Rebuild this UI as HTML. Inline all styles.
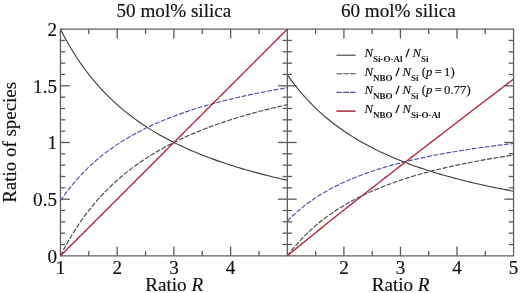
<!DOCTYPE html>
<html><head><meta charset="utf-8"><style>
html,body{margin:0;padding:0;background:#fff;}
body{width:520px;height:293px;overflow:hidden;}
svg{display:block;}
text{font-family:"Liberation Serif", serif;fill:#111;stroke:#111;stroke-width:0.15px;}
</style></head><body>
<svg width="520" height="293" viewBox="0 0 520 293">
<rect width="520" height="293" fill="#fff"/>
<g stroke="#5a5a5a" stroke-width="1.3" fill="none">
<line x1="88.81" y1="255.85" x2="88.81" y2="251.05"/>
<line x1="88.81" y1="29.10" x2="88.81" y2="33.90"/>
<line x1="117.18" y1="255.85" x2="117.18" y2="246.55"/>
<line x1="117.18" y1="29.10" x2="117.18" y2="38.40"/>
<line x1="145.54" y1="255.85" x2="145.54" y2="251.05"/>
<line x1="145.54" y1="29.10" x2="145.54" y2="33.90"/>
<line x1="173.90" y1="255.85" x2="173.90" y2="246.55"/>
<line x1="173.90" y1="29.10" x2="173.90" y2="38.40"/>
<line x1="202.26" y1="255.85" x2="202.26" y2="251.05"/>
<line x1="202.26" y1="29.10" x2="202.26" y2="33.90"/>
<line x1="230.62" y1="255.85" x2="230.62" y2="246.55"/>
<line x1="230.62" y1="29.10" x2="230.62" y2="38.40"/>
<line x1="258.99" y1="255.85" x2="258.99" y2="251.05"/>
<line x1="258.99" y1="29.10" x2="258.99" y2="33.90"/>
<line x1="315.62" y1="255.85" x2="315.62" y2="251.05"/>
<line x1="315.62" y1="29.10" x2="315.62" y2="33.90"/>
<line x1="343.90" y1="255.85" x2="343.90" y2="246.55"/>
<line x1="343.90" y1="29.10" x2="343.90" y2="38.40"/>
<line x1="372.18" y1="255.85" x2="372.18" y2="251.05"/>
<line x1="372.18" y1="29.10" x2="372.18" y2="33.90"/>
<line x1="400.45" y1="255.85" x2="400.45" y2="246.55"/>
<line x1="400.45" y1="29.10" x2="400.45" y2="38.40"/>
<line x1="428.72" y1="255.85" x2="428.72" y2="251.05"/>
<line x1="428.72" y1="29.10" x2="428.72" y2="33.90"/>
<line x1="457.00" y1="255.85" x2="457.00" y2="246.55"/>
<line x1="457.00" y1="29.10" x2="457.00" y2="38.40"/>
<line x1="485.27" y1="255.85" x2="485.27" y2="251.05"/>
<line x1="485.27" y1="29.10" x2="485.27" y2="33.90"/>
<line x1="60.45" y1="244.51" x2="65.25" y2="244.51"/>
<line x1="282.55" y1="244.51" x2="292.15" y2="244.51"/>
<line x1="513.55" y1="244.51" x2="508.75" y2="244.51"/>
<line x1="60.45" y1="233.17" x2="65.25" y2="233.17"/>
<line x1="282.55" y1="233.17" x2="292.15" y2="233.17"/>
<line x1="513.55" y1="233.17" x2="508.75" y2="233.17"/>
<line x1="60.45" y1="221.84" x2="65.25" y2="221.84"/>
<line x1="282.55" y1="221.84" x2="292.15" y2="221.84"/>
<line x1="513.55" y1="221.84" x2="508.75" y2="221.84"/>
<line x1="60.45" y1="210.50" x2="65.25" y2="210.50"/>
<line x1="282.55" y1="210.50" x2="292.15" y2="210.50"/>
<line x1="513.55" y1="210.50" x2="508.75" y2="210.50"/>
<line x1="60.45" y1="199.16" x2="69.75" y2="199.16"/>
<line x1="278.05" y1="199.16" x2="296.65" y2="199.16"/>
<line x1="513.55" y1="199.16" x2="504.25" y2="199.16"/>
<line x1="60.45" y1="187.82" x2="65.25" y2="187.82"/>
<line x1="282.55" y1="187.82" x2="292.15" y2="187.82"/>
<line x1="513.55" y1="187.82" x2="508.75" y2="187.82"/>
<line x1="60.45" y1="176.49" x2="65.25" y2="176.49"/>
<line x1="282.55" y1="176.49" x2="292.15" y2="176.49"/>
<line x1="513.55" y1="176.49" x2="508.75" y2="176.49"/>
<line x1="60.45" y1="165.15" x2="65.25" y2="165.15"/>
<line x1="282.55" y1="165.15" x2="292.15" y2="165.15"/>
<line x1="513.55" y1="165.15" x2="508.75" y2="165.15"/>
<line x1="60.45" y1="153.81" x2="65.25" y2="153.81"/>
<line x1="282.55" y1="153.81" x2="292.15" y2="153.81"/>
<line x1="513.55" y1="153.81" x2="508.75" y2="153.81"/>
<line x1="60.45" y1="142.47" x2="69.75" y2="142.47"/>
<line x1="278.05" y1="142.47" x2="296.65" y2="142.47"/>
<line x1="513.55" y1="142.47" x2="504.25" y2="142.47"/>
<line x1="60.45" y1="131.14" x2="65.25" y2="131.14"/>
<line x1="282.55" y1="131.14" x2="292.15" y2="131.14"/>
<line x1="513.55" y1="131.14" x2="508.75" y2="131.14"/>
<line x1="60.45" y1="119.80" x2="65.25" y2="119.80"/>
<line x1="282.55" y1="119.80" x2="292.15" y2="119.80"/>
<line x1="513.55" y1="119.80" x2="508.75" y2="119.80"/>
<line x1="60.45" y1="108.46" x2="65.25" y2="108.46"/>
<line x1="282.55" y1="108.46" x2="292.15" y2="108.46"/>
<line x1="513.55" y1="108.46" x2="508.75" y2="108.46"/>
<line x1="60.45" y1="97.12" x2="65.25" y2="97.12"/>
<line x1="282.55" y1="97.12" x2="292.15" y2="97.12"/>
<line x1="513.55" y1="97.12" x2="508.75" y2="97.12"/>
<line x1="60.45" y1="85.79" x2="69.75" y2="85.79"/>
<line x1="278.05" y1="85.79" x2="296.65" y2="85.79"/>
<line x1="513.55" y1="85.79" x2="504.25" y2="85.79"/>
<line x1="60.45" y1="74.45" x2="65.25" y2="74.45"/>
<line x1="282.55" y1="74.45" x2="292.15" y2="74.45"/>
<line x1="513.55" y1="74.45" x2="508.75" y2="74.45"/>
<line x1="60.45" y1="63.11" x2="65.25" y2="63.11"/>
<line x1="282.55" y1="63.11" x2="292.15" y2="63.11"/>
<line x1="513.55" y1="63.11" x2="508.75" y2="63.11"/>
<line x1="60.45" y1="51.77" x2="65.25" y2="51.77"/>
<line x1="282.55" y1="51.77" x2="292.15" y2="51.77"/>
<line x1="513.55" y1="51.77" x2="508.75" y2="51.77"/>
<line x1="60.45" y1="40.44" x2="65.25" y2="40.44"/>
<line x1="282.55" y1="40.44" x2="292.15" y2="40.44"/>
<line x1="513.55" y1="40.44" x2="508.75" y2="40.44"/>
</g>
<path d="M60.45,29.10 L63.29,34.63 L66.12,39.90 L68.96,44.92 L71.80,49.71 L74.63,54.29 L77.47,58.68 L80.30,62.87 L83.14,66.89 L85.98,70.75 L88.81,74.45 L91.65,78.01 L94.49,81.43 L97.32,84.72 L100.16,87.89 L102.99,90.94 L105.83,93.89 L108.67,96.73 L111.50,99.47 L114.34,102.12 L117.18,104.68 L120.01,107.16 L122.85,109.56 L125.68,111.88 L128.52,114.13 L131.36,116.31 L134.19,118.43 L137.03,120.48 L139.87,122.47 L142.70,124.40 L145.54,126.28 L148.37,128.10 L151.21,129.88 L154.05,131.60 L156.88,133.28 L159.72,134.92 L162.56,136.51 L165.39,138.06 L168.23,139.57 L171.06,141.04 L173.90,142.47 L176.74,143.87 L179.57,145.24 L182.41,146.57 L185.25,147.87 L188.08,149.14 L190.92,150.38 L193.75,151.60 L196.59,152.78 L199.43,153.94 L202.26,155.07 L205.10,156.18 L207.94,157.26 L210.77,158.32 L213.61,159.36 L216.44,160.38 L219.28,161.37 L222.12,162.34 L224.95,163.30 L227.79,164.23 L230.62,165.15 L233.46,166.05 L236.30,166.93 L239.13,167.79 L241.97,168.64 L244.81,169.47 L247.64,170.28 L250.48,171.08 L253.32,171.87 L256.15,172.64 L258.99,173.40 L261.82,174.14 L264.66,174.87 L267.50,175.58 L270.33,176.29 L273.17,176.98 L276.01,177.66 L278.84,178.33 L281.68,178.99 L284.51,179.63 L287.35,180.27" fill="none" stroke="#3a3a3a" stroke-width="1.1"/>
<path d="M60.45,255.85 L63.29,250.32 L66.12,245.05 L68.96,240.03 L71.80,235.24 L74.63,230.66 L77.47,226.27 L80.30,222.08 L83.14,218.06 L85.98,214.20 L88.81,210.50 L91.65,206.94 L94.49,203.52 L97.32,200.23 L100.16,197.06 L102.99,194.01 L105.83,191.06 L108.67,188.22 L111.50,185.48 L114.34,182.83 L117.18,180.27 L120.01,177.79 L122.85,175.39 L125.68,173.07 L128.52,170.82 L131.36,168.64 L134.19,166.52 L137.03,164.47 L139.87,162.48 L142.70,160.55 L145.54,158.67 L148.37,156.85 L151.21,155.07 L154.05,153.35 L156.88,151.67 L159.72,150.03 L162.56,148.44 L165.39,146.89 L168.23,145.38 L171.06,143.91 L173.90,142.47 L176.74,141.08 L179.57,139.71 L182.41,138.38 L185.25,137.08 L188.08,135.81 L190.92,134.57 L193.75,133.35 L196.59,132.17 L199.43,131.01 L202.26,129.88 L205.10,128.77 L207.94,127.69 L210.77,126.63 L213.61,125.59 L216.44,124.57 L219.28,123.58 L222.12,122.61 L224.95,121.65 L227.79,120.72 L230.62,119.80 L233.46,118.90 L236.30,118.02 L239.13,117.16 L241.97,116.31 L244.81,115.48 L247.64,114.67 L250.48,113.87 L253.32,113.08 L256.15,112.31 L258.99,111.55 L261.82,110.81 L264.66,110.08 L267.50,109.37 L270.33,108.66 L273.17,107.97 L276.01,107.29 L278.84,106.62 L281.68,105.96 L284.51,105.32 L287.35,104.68" fill="none" stroke="#4a4a4a" stroke-width="1.15" stroke-dasharray="5.0 1.5"/>
<path d="M60.45,200.81 L63.29,196.71 L66.12,192.80 L68.96,189.07 L71.80,185.51 L74.63,182.10 L77.47,178.85 L80.30,175.72 L83.14,172.73 L85.98,169.86 L88.81,167.10 L91.65,164.45 L94.49,161.90 L97.32,159.44 L100.16,157.08 L102.99,154.80 L105.83,152.60 L108.67,150.47 L111.50,148.42 L114.34,146.44 L117.18,144.52 L120.01,142.67 L122.85,140.87 L125.68,139.14 L128.52,137.45 L131.36,135.82 L134.19,134.23 L137.03,132.70 L139.87,131.20 L142.70,129.75 L145.54,128.34 L148.37,126.98 L151.21,125.64 L154.05,124.35 L156.88,123.09 L159.72,121.86 L162.56,120.67 L165.39,119.50 L168.23,118.37 L171.06,117.26 L173.90,116.18 L176.74,115.13 L179.57,114.10 L182.41,113.10 L185.25,112.12 L188.08,111.17 L190.92,110.23 L193.75,109.32 L196.59,108.43 L199.43,107.56 L202.26,106.70 L205.10,105.87 L207.94,105.06 L210.77,104.26 L213.61,103.48 L216.44,102.71 L219.28,101.96 L222.12,101.23 L224.95,100.51 L227.79,99.80 L230.62,99.11 L233.46,98.44 L236.30,97.77 L239.13,97.12 L241.97,96.48 L244.81,95.86 L247.64,95.24 L250.48,94.64 L253.32,94.05 L256.15,93.46 L258.99,92.89 L261.82,92.33 L264.66,91.78 L267.50,91.24 L270.33,90.71 L273.17,90.19 L276.01,89.67 L278.84,89.17 L281.68,88.67 L284.51,88.19 L287.35,87.71" fill="none" stroke="#5252a8" stroke-width="1.15" stroke-dasharray="5.0 1.5"/>
<path d="M60.45,255.85 L63.29,253.02 L66.12,250.18 L68.96,247.35 L71.80,244.51 L74.63,241.68 L77.47,238.84 L80.30,236.01 L83.14,233.18 L85.98,230.34 L88.81,227.51 L91.65,224.67 L94.49,221.84 L97.32,219.00 L100.16,216.17 L102.99,213.33 L105.83,210.50 L108.67,207.67 L111.50,204.83 L114.34,202.00 L117.18,199.16 L120.01,196.33 L122.85,193.49 L125.68,190.66 L128.52,187.82 L131.36,184.99 L134.19,182.16 L137.03,179.32 L139.87,176.49 L142.70,173.65 L145.54,170.82 L148.37,167.98 L151.21,165.15 L154.05,162.32 L156.88,159.48 L159.72,156.65 L162.56,153.81 L165.39,150.98 L168.23,148.14 L171.06,145.31 L173.90,142.47 L176.74,139.64 L179.57,136.81 L182.41,133.97 L185.25,131.14 L188.08,128.30 L190.92,125.47 L193.75,122.63 L196.59,119.80 L199.43,116.97 L202.26,114.13 L205.10,111.30 L207.94,108.46 L210.77,105.63 L213.61,102.79 L216.44,99.96 L219.28,97.13 L222.12,94.29 L224.95,91.46 L227.79,88.62 L230.62,85.79 L233.46,82.95 L236.30,80.12 L239.13,77.28 L241.97,74.45 L244.81,71.62 L247.64,68.78 L250.48,65.95 L253.32,63.11 L256.15,60.28 L258.99,57.44 L261.82,54.61 L264.66,51.78 L267.50,48.94 L270.33,46.11 L273.17,43.27 L276.01,40.44 L278.84,37.60 L281.68,34.77 L284.51,31.93 L287.35,29.10" fill="none" stroke="#b02636" stroke-width="1.35"/>
<path d="M287.35,74.87 L290.18,78.85 L293.01,82.66 L295.83,86.31 L298.66,89.81 L301.49,93.17 L304.31,96.40 L307.14,99.50 L309.97,102.48 L312.80,105.35 L315.62,108.11 L318.45,110.78 L321.28,113.35 L324.11,115.83 L326.94,118.22 L329.76,120.54 L332.59,122.78 L335.42,124.94 L338.25,127.04 L341.07,129.07 L343.90,131.04 L346.73,132.95 L349.56,134.80 L352.38,136.59 L355.21,138.33 L358.04,140.03 L360.87,141.67 L363.69,143.27 L366.52,144.82 L369.35,146.33 L372.18,147.81 L375.00,149.24 L377.83,150.63 L380.66,151.99 L383.49,153.32 L386.31,154.61 L389.14,155.86 L391.97,157.09 L394.79,158.29 L397.62,159.46 L400.45,160.60 L403.28,161.72 L406.11,162.80 L408.93,163.87 L411.76,164.91 L414.59,165.93 L417.41,166.92 L420.24,167.89 L423.07,168.84 L425.90,169.78 L428.72,170.69 L431.55,171.58 L434.38,172.45 L437.21,173.31 L440.03,174.15 L442.86,174.97 L445.69,175.77 L448.52,176.56 L451.34,177.34 L454.17,178.10 L457.00,178.84 L459.83,179.57 L462.65,180.29 L465.48,180.99 L468.31,181.68 L471.14,182.36 L473.96,183.02 L476.79,183.68 L479.62,184.32 L482.45,184.95 L485.27,185.57 L488.10,186.18 L490.93,186.78 L493.76,187.37 L496.58,187.94 L499.41,188.51 L502.24,189.07 L505.07,189.62 L507.89,190.16 L510.72,190.69 L513.55,191.22" fill="none" stroke="#3a3a3a" stroke-width="1.1"/>
<path d="M287.35,255.85 L290.18,252.16 L293.01,248.65 L295.83,245.30 L298.66,242.11 L301.49,239.05 L304.31,236.13 L307.14,233.34 L309.97,230.66 L312.80,228.08 L315.62,225.62 L318.45,223.25 L321.28,220.97 L324.11,218.77 L326.94,216.66 L329.76,214.62 L332.59,212.66 L335.42,210.77 L338.25,208.94 L341.07,207.17 L343.90,205.46 L346.73,203.81 L349.56,202.21 L352.38,200.66 L355.21,199.16 L358.04,197.71 L360.87,196.30 L363.69,194.93 L366.52,193.60 L369.35,192.32 L372.18,191.06 L375.00,189.85 L377.83,188.66 L380.66,187.51 L383.49,186.40 L386.31,185.31 L389.14,184.24 L391.97,183.21 L394.79,182.20 L397.62,181.22 L400.45,180.27 L403.28,179.33 L406.11,178.42 L408.93,177.53 L411.76,176.67 L414.59,175.82 L417.41,174.99 L420.24,174.19 L423.07,173.40 L425.90,172.62 L428.72,171.87 L431.55,171.13 L434.38,170.41 L437.21,169.70 L440.03,169.01 L442.86,168.33 L445.69,167.67 L448.52,167.02 L451.34,166.38 L454.17,165.76 L457.00,165.15 L459.83,164.55 L462.65,163.96 L465.48,163.39 L468.31,162.82 L471.14,162.27 L473.96,161.73 L476.79,161.19 L479.62,160.67 L482.45,160.16 L485.27,159.65 L488.10,159.16 L490.93,158.67 L493.76,158.19 L496.58,157.72 L499.41,157.26 L502.24,156.81 L505.07,156.36 L507.89,155.93 L510.72,155.50 L513.55,155.07" fill="none" stroke="#4a4a4a" stroke-width="1.15" stroke-dasharray="5.0 1.5"/>
<path d="M287.35,221.08 L290.18,218.24 L293.01,215.54 L295.83,212.96 L298.66,210.50 L301.49,208.15 L304.31,205.90 L307.14,203.75 L309.97,201.68 L312.80,199.70 L315.62,197.80 L318.45,195.98 L321.28,194.22 L324.11,192.53 L326.94,190.90 L329.76,189.34 L332.59,187.82 L335.42,186.37 L338.25,184.96 L341.07,183.60 L343.90,182.28 L346.73,181.01 L349.56,179.78 L352.38,178.59 L355.21,177.43 L358.04,176.31 L360.87,175.23 L363.69,174.17 L366.52,173.15 L369.35,172.16 L372.18,171.20 L375.00,170.26 L377.83,169.35 L380.66,168.46 L383.49,167.60 L386.31,166.76 L389.14,165.95 L391.97,165.15 L394.79,164.37 L397.62,163.62 L400.45,162.88 L403.28,162.16 L406.11,161.46 L408.93,160.78 L411.76,160.11 L414.59,159.46 L417.41,158.82 L420.24,158.20 L423.07,157.59 L425.90,157.00 L428.72,156.42 L431.55,155.85 L434.38,155.29 L437.21,154.75 L440.03,154.21 L442.86,153.69 L445.69,153.18 L448.52,152.68 L451.34,152.19 L454.17,151.71 L457.00,151.24 L459.83,150.78 L462.65,150.33 L465.48,149.89 L468.31,149.45 L471.14,149.03 L473.96,148.61 L476.79,148.20 L479.62,147.79 L482.45,147.40 L485.27,147.01 L488.10,146.63 L490.93,146.25 L493.76,145.89 L496.58,145.52 L499.41,145.17 L502.24,144.82 L505.07,144.48 L507.89,144.14 L510.72,143.81 L513.55,143.48" fill="none" stroke="#5252a8" stroke-width="1.15" stroke-dasharray="5.0 1.5"/>
<path d="M287.35,255.85 L290.18,253.49 L293.01,251.14 L295.83,248.80 L298.66,246.47 L301.49,244.14 L304.31,241.83 L307.14,239.52 L309.97,237.23 L312.80,234.93 L315.62,232.65 L318.45,230.37 L321.28,228.10 L324.11,225.83 L326.94,223.56 L329.76,221.31 L332.59,219.05 L335.42,216.80 L338.25,214.56 L341.07,212.32 L343.90,210.08 L346.73,207.84 L349.56,205.61 L352.38,203.38 L355.21,201.16 L358.04,198.94 L360.87,196.72 L363.69,194.50 L366.52,192.29 L369.35,190.08 L372.18,187.87 L375.00,185.66 L377.83,183.46 L380.66,181.25 L383.49,179.05 L386.31,176.85 L389.14,174.66 L391.97,172.46 L394.79,170.27 L397.62,168.07 L400.45,165.88 L403.28,163.69 L406.11,161.51 L408.93,159.32 L411.76,157.13 L414.59,154.95 L417.41,152.77 L420.24,150.59 L423.07,148.41 L425.90,146.23 L428.72,144.05 L431.55,141.87 L434.38,139.70 L437.21,137.52 L440.03,135.35 L442.86,133.17 L445.69,131.00 L448.52,128.83 L451.34,126.66 L454.17,124.49 L457.00,122.32 L459.83,120.15 L462.65,117.98 L465.48,115.82 L468.31,113.65 L471.14,111.48 L473.96,109.32 L476.79,107.15 L479.62,104.99 L482.45,102.83 L485.27,100.67 L488.10,98.50 L490.93,96.34 L493.76,94.18 L496.58,92.02 L499.41,89.86 L502.24,87.70 L505.07,85.54 L507.89,83.39 L510.72,81.23 L513.55,79.07" fill="none" stroke="#b02636" stroke-width="1.35"/>
<path d="M60.45,29.1 H513.55 V255.85 H60.45 Z M287.35,29.1 V255.85" fill="none" stroke="#606060" stroke-width="1.3"/>
<text transform="translate(57.00,36.10) scale(1.045,1)" font-size="18.3" text-anchor="end" >2</text>
<text transform="translate(57.00,92.79) scale(1.045,1)" font-size="18.3" text-anchor="end" >1.5</text>
<text transform="translate(57.00,149.47) scale(1.045,1)" font-size="18.3" text-anchor="end" >1</text>
<text transform="translate(57.00,206.16) scale(1.045,1)" font-size="18.3" text-anchor="end" >0.5</text>
<text transform="translate(57.00,262.85) scale(1.045,1)" font-size="18.3" text-anchor="end" >0</text>
<text transform="translate(60.45,273.80) scale(1.045,1)" font-size="18.3" text-anchor="middle" >1</text>
<text transform="translate(117.18,273.80) scale(1.045,1)" font-size="18.3" text-anchor="middle" >2</text>
<text transform="translate(173.90,273.80) scale(1.045,1)" font-size="18.3" text-anchor="middle" >3</text>
<text transform="translate(230.62,273.80) scale(1.045,1)" font-size="18.3" text-anchor="middle" >4</text>
<text transform="translate(343.90,273.80) scale(1.045,1)" font-size="18.3" text-anchor="middle" >2</text>
<text transform="translate(400.45,273.80) scale(1.045,1)" font-size="18.3" text-anchor="middle" >3</text>
<text transform="translate(457.00,273.80) scale(1.045,1)" font-size="18.3" text-anchor="middle" >4</text>
<text transform="translate(513.55,273.80) scale(1.045,1)" font-size="18.3" text-anchor="middle" >5</text>
<text transform="translate(174.20,291.20) scale(1.045,1)" font-size="18.3" text-anchor="middle" >Ratio <tspan font-style="italic">R</tspan></text>
<text transform="translate(400.60,291.20) scale(1.045,1)" font-size="18.3" text-anchor="middle" >Ratio <tspan font-style="italic">R</tspan></text>
<text transform="translate(173.90,16.80) scale(1.046,1)" font-size="18.3" text-anchor="middle" >50 mol% silica</text>
<text transform="translate(398.30,16.80) scale(1.046,1)" font-size="18.3" text-anchor="middle" >60 mol% silica</text>
<text transform="translate(15.8,142.3) rotate(-90) scale(1.035,1)" font-size="18.3" text-anchor="middle">Ratio of species</text>
<line x1="336.4" y1="55.2" x2="355.6" y2="55.2" stroke="#3a3a3a" stroke-width="1.1" />
<text transform="translate(364.4,57.00) scale(1.05,1)" font-size="12.2" stroke-width="0.3"><tspan font-style="italic">N</tspan><tspan font-size="8.6" font-weight="bold" stroke-width="0" dy="5.0">Si-O-Al</tspan><tspan dy="-5.0"> <tspan stroke-width="0.55">/</tspan> </tspan><tspan font-style="italic">N</tspan><tspan font-size="8.6" font-weight="bold" stroke-width="0" dy="5.0">Si</tspan></text>
<line x1="336.4" y1="73.8" x2="355.6" y2="73.8" stroke="#4a4a4a" stroke-width="1.1" stroke-dasharray="5.7 1.1"/>
<text transform="translate(364.4,75.60) scale(1.05,1)" font-size="12.2" stroke-width="0.3"><tspan font-style="italic">N</tspan><tspan font-size="8.6" font-weight="bold" stroke-width="0" dy="5.0">NBO</tspan><tspan dy="-5.0"> <tspan stroke-width="0.55">/</tspan> </tspan><tspan font-style="italic">N</tspan><tspan font-size="8.6" font-weight="bold" stroke-width="0" dy="5.0">Si</tspan><tspan dy="-5.0"> (</tspan><tspan font-style="italic">p</tspan><tspan word-spacing="-0.9"> = 1)</tspan></text>
<line x1="336.4" y1="92.4" x2="355.6" y2="92.4" stroke="#5252a8" stroke-width="1.1" stroke-dasharray="5.7 1.1"/>
<text transform="translate(364.4,94.20) scale(1.05,1)" font-size="12.2" stroke-width="0.3"><tspan font-style="italic">N</tspan><tspan font-size="8.6" font-weight="bold" stroke-width="0" dy="5.0">NBO</tspan><tspan dy="-5.0"> <tspan stroke-width="0.55">/</tspan> </tspan><tspan font-style="italic">N</tspan><tspan font-size="8.6" font-weight="bold" stroke-width="0" dy="5.0">Si</tspan><tspan dy="-5.0"> (</tspan><tspan font-style="italic">p</tspan><tspan word-spacing="-0.9"> = 0.77)</tspan></text>
<line x1="336.4" y1="111.1" x2="355.6" y2="111.1" stroke="#b02636" stroke-width="1.5" />
<text transform="translate(364.4,112.90) scale(1.05,1)" font-size="12.2" stroke-width="0.3"><tspan font-style="italic">N</tspan><tspan font-size="8.6" font-weight="bold" stroke-width="0" dy="5.0">NBO</tspan><tspan dy="-5.0"> <tspan stroke-width="0.55">/</tspan> </tspan><tspan font-style="italic">N</tspan><tspan font-size="8.6" font-weight="bold" stroke-width="0" dy="5.0">Si-O-Al</tspan></text>
</svg>
</body></html>
